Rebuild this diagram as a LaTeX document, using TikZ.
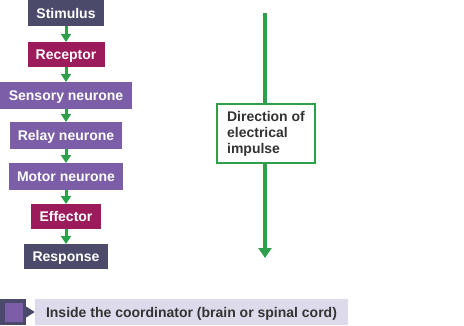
\documentclass[tikz,border=0pt]{standalone}
\usepackage{fontspec}
\setmainfont{Liberation Sans}
\usetikzlibrary{arrows.meta}
\definecolor{cdark}{HTML}{4B4A6B}
\definecolor{cmaroon}{HTML}{9B1B5B}
\definecolor{cpurple}{HTML}{7B5EA7}
\definecolor{cgreen}{HTML}{2EA04B}
\definecolor{clav}{HTML}{DDDBEB}
\definecolor{ctext}{HTML}{333333}
\tikzset{
  box/.style={inner sep=0pt, outer sep=0pt, text=white, text height=10pt, text depth=0pt, font=\fontsize{14}{15.5}\selectfont\bfseries},
  darkbox/.style={box, fill=cdark},
  maroonbox/.style={box, fill=cmaroon},
  purplebox/.style={box, fill=cpurple},
  flow/.style={draw=cgreen, line width=3pt, -{Triangle[width=10pt,length=8pt]}},
  bigflow/.style={draw=cgreen, line width=4pt},
}
\begin{document}
\begin{tikzpicture}[x=1pt,y=-1pt]
\useasboundingbox (0,0) rectangle (464,325);
\node[darkbox, minimum width=76pt, minimum height=26pt] (stim) at (66,13) {Stimulus};
\node[maroonbox, minimum width=77pt, minimum height=25pt] (rec) at (66,54.5) {Receptor};
\node[purplebox, minimum width=132pt, minimum height=27pt] (sens) at (66,95.5) {Sensory neurone};
\node[purplebox, minimum width=112pt, minimum height=27pt] (relay) at (66,135.5) {Relay neurone};
\node[purplebox, minimum width=114pt, minimum height=27pt] (motor) at (66,176.5) {Motor neurone};
\node[maroonbox, minimum width=70pt, minimum height=25pt] (eff) at (66,216.5) {Effector};
\node[darkbox, minimum width=84pt, minimum height=25pt] (resp) at (66,256.5) {Response};

\draw[flow] (stim.south) -- (rec.north);
\draw[flow] (rec.south) -- (sens.north);
\draw[flow] (sens.south) -- (relay.north);
\draw[flow] (relay.south) -- (motor.north);
\draw[flow] (motor.south) -- (eff.north);
\draw[flow] (eff.south) -- (resp.north);

\coordinate (top) at (265,13);
\coordinate (bot) at (265,258);
\node[draw=cgreen, line width=2pt, fill=white, inner sep=0pt, minimum width=98pt, minimum height=59pt,
      align=left, text=ctext, font=\fontsize{14}{16}\selectfont\bfseries] (dir) at (266,133.5)
      {Direction of\\electrical\\impulse};
\draw[bigflow] (top) -- (top |- dir.north);
\draw[bigflow, -{Triangle[width=13pt,length=10pt]}] (top |- dir.south) -- (bot);

\node[fill=cdark, inner sep=0pt, minimum width=26pt, minimum height=26pt] (sq) at (13,312) {};
\node[fill=cpurple, inner sep=0pt, minimum width=18pt, minimum height=19pt] (sqin) at (14,312.5) {};
\fill[cdark] (sq.east) ++(0,-5.5) -- ++(8.5,5.5) -- ++(-8.5,5.5) -- cycle;
\node[fill=clav, inner sep=0pt, minimum width=313pt, minimum height=26pt, text=ctext,
      text height=10pt, text depth=0pt,
      font=\fontsize{14}{15.5}\selectfont\bfseries] (leg) at (191.5,312)
      {Inside the coordinator (brain or spinal cord)};
\end{tikzpicture}
\end{document}
